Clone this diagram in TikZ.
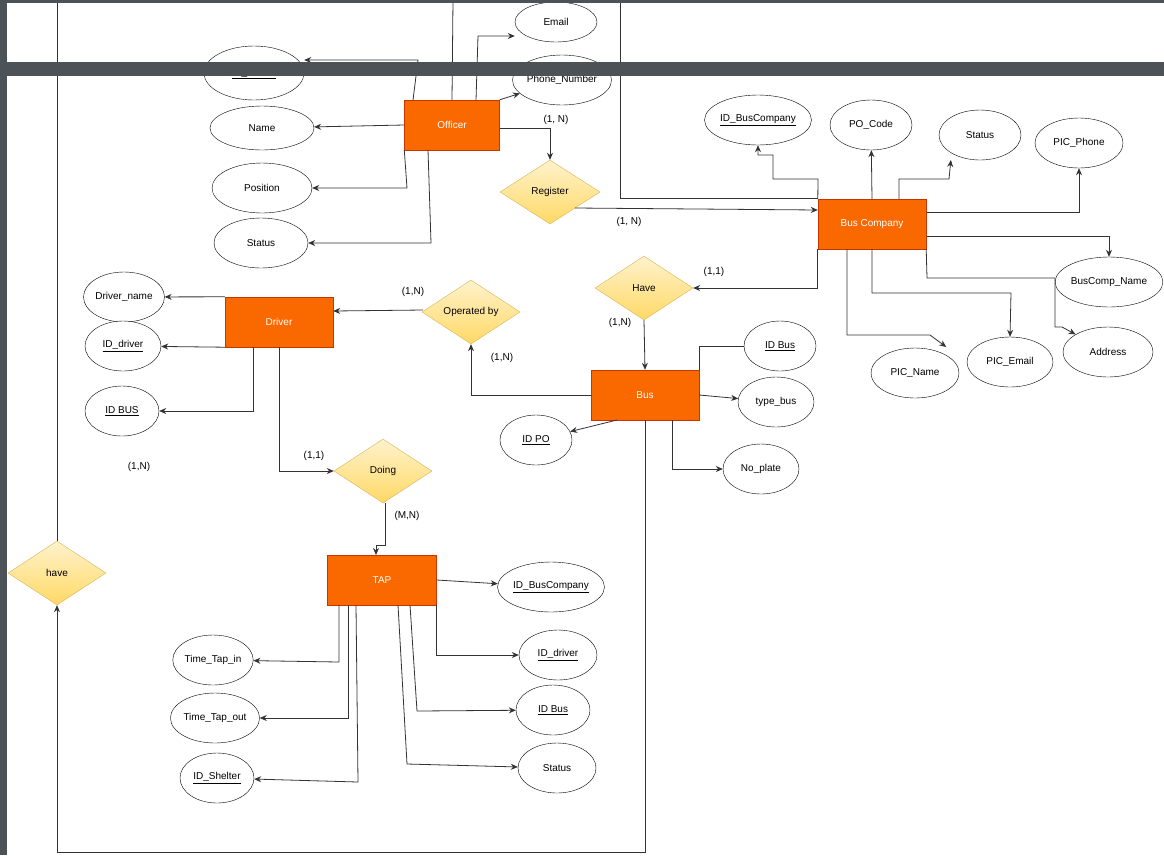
\documentclass[tikz,border=0pt]{standalone}
\usepackage{fontspec}
\setmainfont{Liberation Sans}
\usetikzlibrary{shapes.geometric,arrows.meta}
\definecolor{ent}{HTML}{FA6800}
\definecolor{entb}{HTML}{C73500}
\definecolor{relb}{HTML}{D6B656}
\definecolor{relt}{HTML}{FFF2CC}
\definecolor{relbot}{HTML}{FFD966}
\definecolor{band}{HTML}{4D5256}
\definecolor{ln}{HTML}{333333}
\begin{document}
\begin{tikzpicture}[x=1pt,y=-1pt,font=\fontsize{10}{12}\selectfont,
 ent/.style={rectangle,fill=ent,draw=entb,text=white,minimum width=108pt,minimum height=50pt,inner sep=0},
 rel/.style={diamond,draw=relb,top color=relt,bottom color=relbot,aspect=1.5,minimum width=98pt,minimum height=64pt,inner sep=0},
 att/.style={ellipse,draw=black,fill=white,minimum width=#1,minimum height=50pt,inner sep=0},
 att/.default=82pt,
 lbl/.style={inner sep=0},
 c/.style={draw=ln,line width=0.8pt},
 a/.style={c,-{Stealth[length=7pt,width=6pt]}}]
\useasboundingbox (0,0) rectangle (1164,855);
\fill[white] (0,0) rectangle (1164,855);
% entities
\node[ent,minimum width=95pt] (officer) at (452,125) {Officer};
\node[ent] (busco) at (872,224) {Bus Company};
\node[ent] (bus) at (645,395) {Bus};
\node[ent] (driver) at (279,322) {Driver};
\node[ent,minimum width=109pt] (tap) at (382,580) {TAP};
% relations
\node[rel,minimum width=100pt] (register) at (550,192) {Register};
\node[rel] (have) at (644,288) {Have};
\node[rel] (opby) at (471,312) {Operated by};
\node[rel] (doing) at (383,471) {Doing};
\node[rel] (have2) at (57,573) {have};
% attributes
\node[att=82pt,minimum height=40pt] (email) at (556,22) {Email};
\node[att=86pt] (phone) at (562,80) {\raisebox{-6pt}{Phone\_Number}};
\node[att=100pt,minimum height=54pt] (idoff) at (254,73) {\raisebox{-8pt}{\underline{ID\_Officer}}};
\node[att=104pt,minimum height=44pt] (name) at (262,128) {Name};
\node[att=100pt] (pos) at (262,188) {Position};
\node[att=94pt] (ostatus) at (261,243) {Status};
\node[att=92pt] (idbc) at (758,120) {\underline{ID\_BusCompany}};
\node[att] (po) at (871,125) {PO\_Code};
\node[att] (bstatus) at (980,135) {Status};
\node[att=88pt] (picph) at (1079,143) {PIC\_Phone};
\node[att=90pt] (bcname) at (1109,282) {BusComp\_Name};
\node[att=90pt] (addr) at (1108,352) {Address};
\node[att=86pt] (picem) at (1010,362) {PIC\_Email};
\node[att=88pt] (picnm) at (915,373) {PIC\_Name};
\node[att=72pt] (idbus) at (780,346) {\underline{ID Bus}};
\node[att=76pt] (type) at (776,402) {type\_bus};
\node[att=76pt] (plate) at (761,469) {No\_plate};
\node[att=72pt] (idpo) at (536,440) {\underline{ID PO}};
\node[att=76pt] (dname) at (124,297) {Driver\_name};
\node[att=76pt] (iddrv) at (123,346) {\underline{ID\_driver}};
\node[att=74pt] (idBUS) at (122,411) {\underline{ID BUS}};
\node[att=90pt] (tidbc) at (551,587) {\underline{ID\_BusCompany}};
\node[att=78pt] (tiddr) at (558,655) {\underline{ID\_driver}};
\node[att=74pt] (tidbus) at (553,710) {\underline{ID Bus}};
\node[att=78pt] (tstat) at (557,768) {Status};
\node[att=72pt] (tin) at (213,660) {Time\_Tap\_in};
\node[att=80pt] (tout) at (215,718) {Time\_Tap\_out};
\node[att=74pt] (shel) at (217,778) {\underline{ID\_Shelter}};
% labels
\node[lbl] (l1) at (556,120) {(1, N)};
\node[lbl] (l2) at (629,222) {(1, N)};
\node[lbl] (l3) at (714,272) {(1,1)};
\node[lbl] (l4) at (620,323) {(1,N)};
\node[lbl] (l5) at (413,292) {(1,N)};
\node[lbl] (l6) at (502,358) {(1,N)};
\node[lbl] (l7) at (314,456) {(1,1)};
\node[lbl] (l8) at (139,467) {(1,N)};
\node[lbl] (l9) at (407,516) {(M,N)};
% free ends
\coordinate (t1) at (453,0);
\coordinate (t2) at (620,0);
\coordinate (t3) at (57,0);
% connectors
\draw[c] (officer.north) -- (t1);
\draw[c] (t2) |- (busco.north west);
\draw[c] (have2.north) -- (t3);
\draw[a] (476,100) -- (478,36) -- (email.west |- 478,36);
\draw[a] (officer.north east) -- (phone);
\draw[a] (413,100) -- (418,60) -- (idoff.east |- 0,60);
\draw[a] (officer.west) -- (name);
\draw[a] (officer.south west) -- (407,188) -- (pos);
\draw[a] (428,150) -- (431,243) -- (ostatus);
\draw[a] (500,128) -| (register.north);
\draw[a] (575,208) -- (busco.west |- 0,210);
\draw[a] (busco.north west) -- (818,179) -- (773,179) -- (773,155) -- (758,155) -- (idbc.south);
\draw[a] (busco.north) -- (po);
\draw[a] (899,199) |- (949,179) -- (bstatus.south west |- 0,160);
\draw[a] (927,212) -| (picph.south);
\draw[a] (927,236) -| (bcname.north);
\draw[a] (busco.south east) -- (927,278) -- (1055,278) -- (1055,327) -- (1062,327) -- (addr);
\draw[a] (busco.south) |- (1011,293) -- (picem.north);
\draw[a] (847,249) |- (930,335) -- (picnm.north east |- 0,347);
\draw[a] (busco.south west) |- (have.east);
\draw[a] (have.south) -- (bus.north);
\draw[a] (bus.west) -| (opby.south);
\draw[a] (423,310) -- (driver.east |- 0,311);
\draw[a] (driver.north west) -- (dname);
\draw[a] (driver.south west) -- (iddrv);
\draw[a] (253,347) |- (idBUS);
\draw[a] (driver.south) |- (doing.west);
\draw[a] (385,503) -- (385,545) -- (376,545) -- (376,555);
\draw[c] (bus.north east) |- (idbus.west);
\draw[a] (bus.east) -- (type);
\draw[a] (672,420) |- (plate);
\draw[a] (617,420) -- (idpo);
\draw[a] (bus.south) -- (645,852) -| (have2.south);
\draw[a] (tap.east) -- (tidbc);
\draw[a] (tap.south east) |- (tiddr);
\draw[a] (410,605) -- (417,711) -- (tidbus);
\draw[a] (398,605) -- (407,764) -- (tstat);
\draw[a] (339,605) -- (339,662) -- (tin);
\draw[a] (348,605) |- (tout);
\draw[a] (356,605) -- (358,782) -- (shel);
% screenshot frame
\fill[band] (0,0) rectangle (1164,3);
\fill[band] (0,62) rectangle (1164,76);
\fill[band] (0,0) rectangle (7,855);
\end{tikzpicture}
\end{document}
